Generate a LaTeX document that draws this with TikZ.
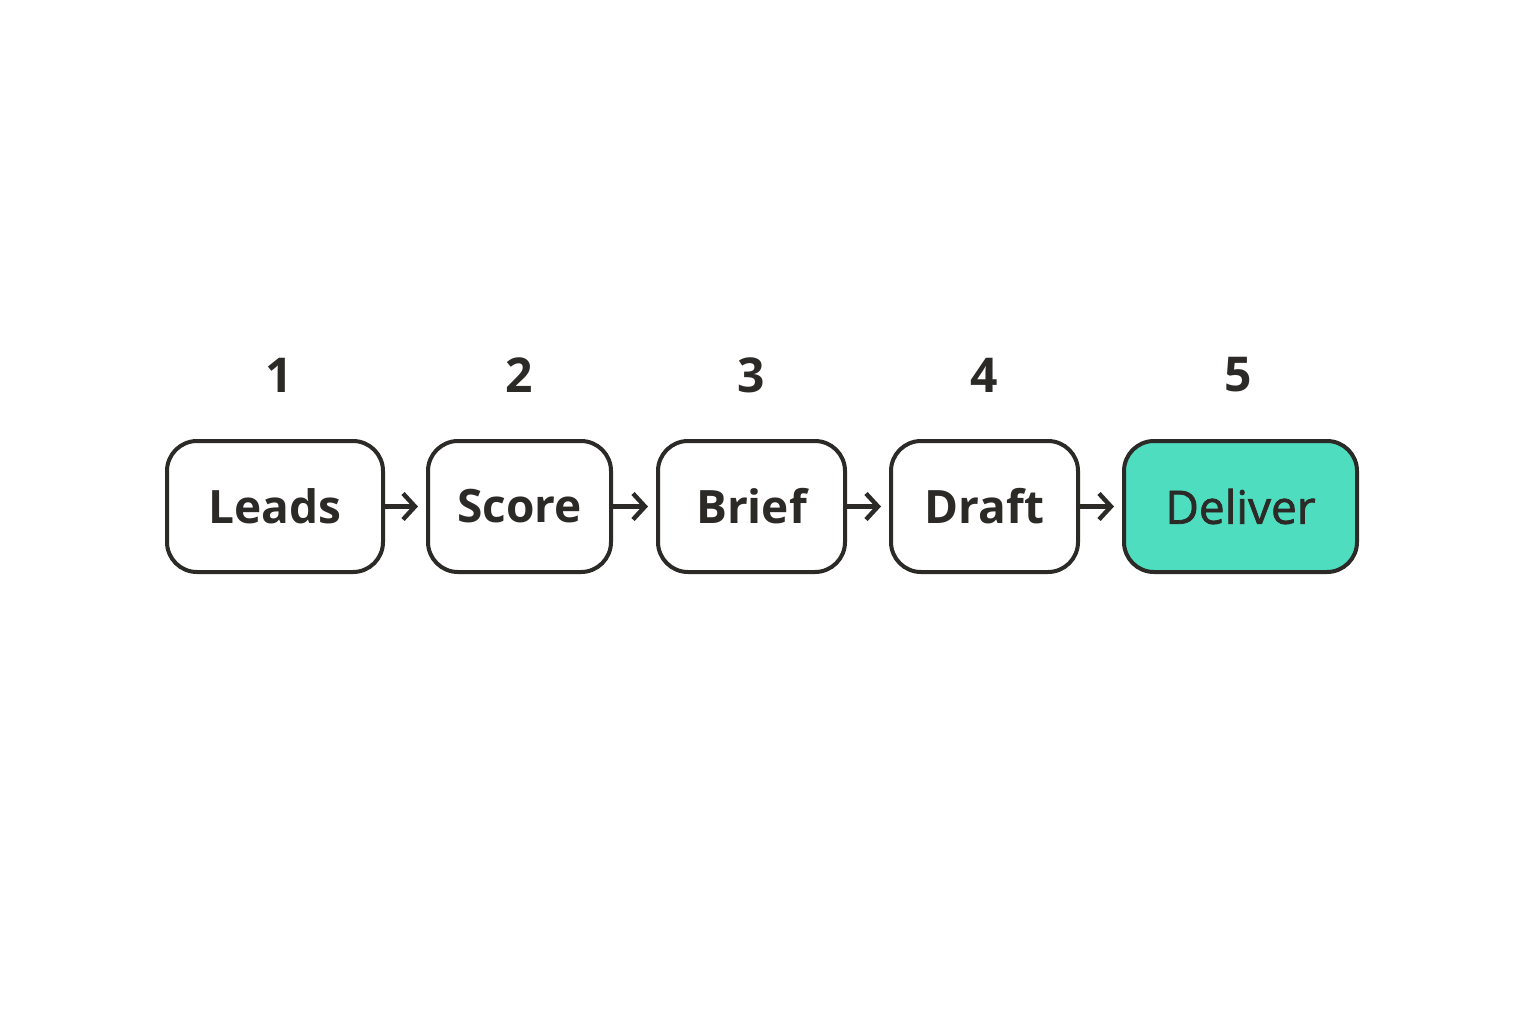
\documentclass[tikz,border=0pt]{standalone}
\usepackage{fontspec}
\setmainfont{Open Sans}
\newfontfamily\medfont{Open Sans}[FakeBold=1.6]
\usetikzlibrary{arrows.meta}
\definecolor{ink}{HTML}{2B2A27}
\definecolor{teal}{HTML}{4EDDBE}
\tikzset{
  stage/.style={draw=ink, line width=2pt, rounded corners=15pt, fill=white,
    minimum height=65.5pt, inner sep=0pt, font=\fontsize{23}{26}\selectfont\bfseries, text=ink},
  num/.style={font=\fontsize{24}{26}\selectfont\bfseries, text=ink},
  flow/.style={draw=ink, line width=2.2pt, -{Straight Barb[length=6pt,width=13pt,line width=2.2pt]}, shorten >=4pt}
}
\begin{document}
\begin{tikzpicture}[x=0.5pt,y=-0.5pt]
\useasboundingbox (0,0) rectangle (1536,1024);
\node[stage, minimum width=108pt] (leads) at (275,506.5) {Leads};
\node[stage, minimum width=91.5pt] (score) at (519.5,506.5) {Score};
\node[stage, minimum width=93.5pt] (brief) at (751.5,506.5) {Brief};
\node[stage, minimum width=93.5pt] (draft) at (984.5,506.5) {Draft};
\node[stage, minimum width=116.5pt, fill=teal, font=\fontsize{23}{26}\selectfont\medfont] (deliver) at (1240.5,506.5) {Deliver};
\node[num] (n1) at (279,375) {1};
\node[num] (n2) at (519,375) {2};
\node[num] (n3) at (751,375) {3};
\node[num] (n4) at (984,375) {4};
\node[num] (n5) at (1238,375) {5};
\draw[flow] (leads) -- (score);
\draw[flow] (score) -- (brief);
\draw[flow] (brief) -- (draft);
\draw[flow] (draft) -- (deliver);
\end{tikzpicture}
\end{document}
